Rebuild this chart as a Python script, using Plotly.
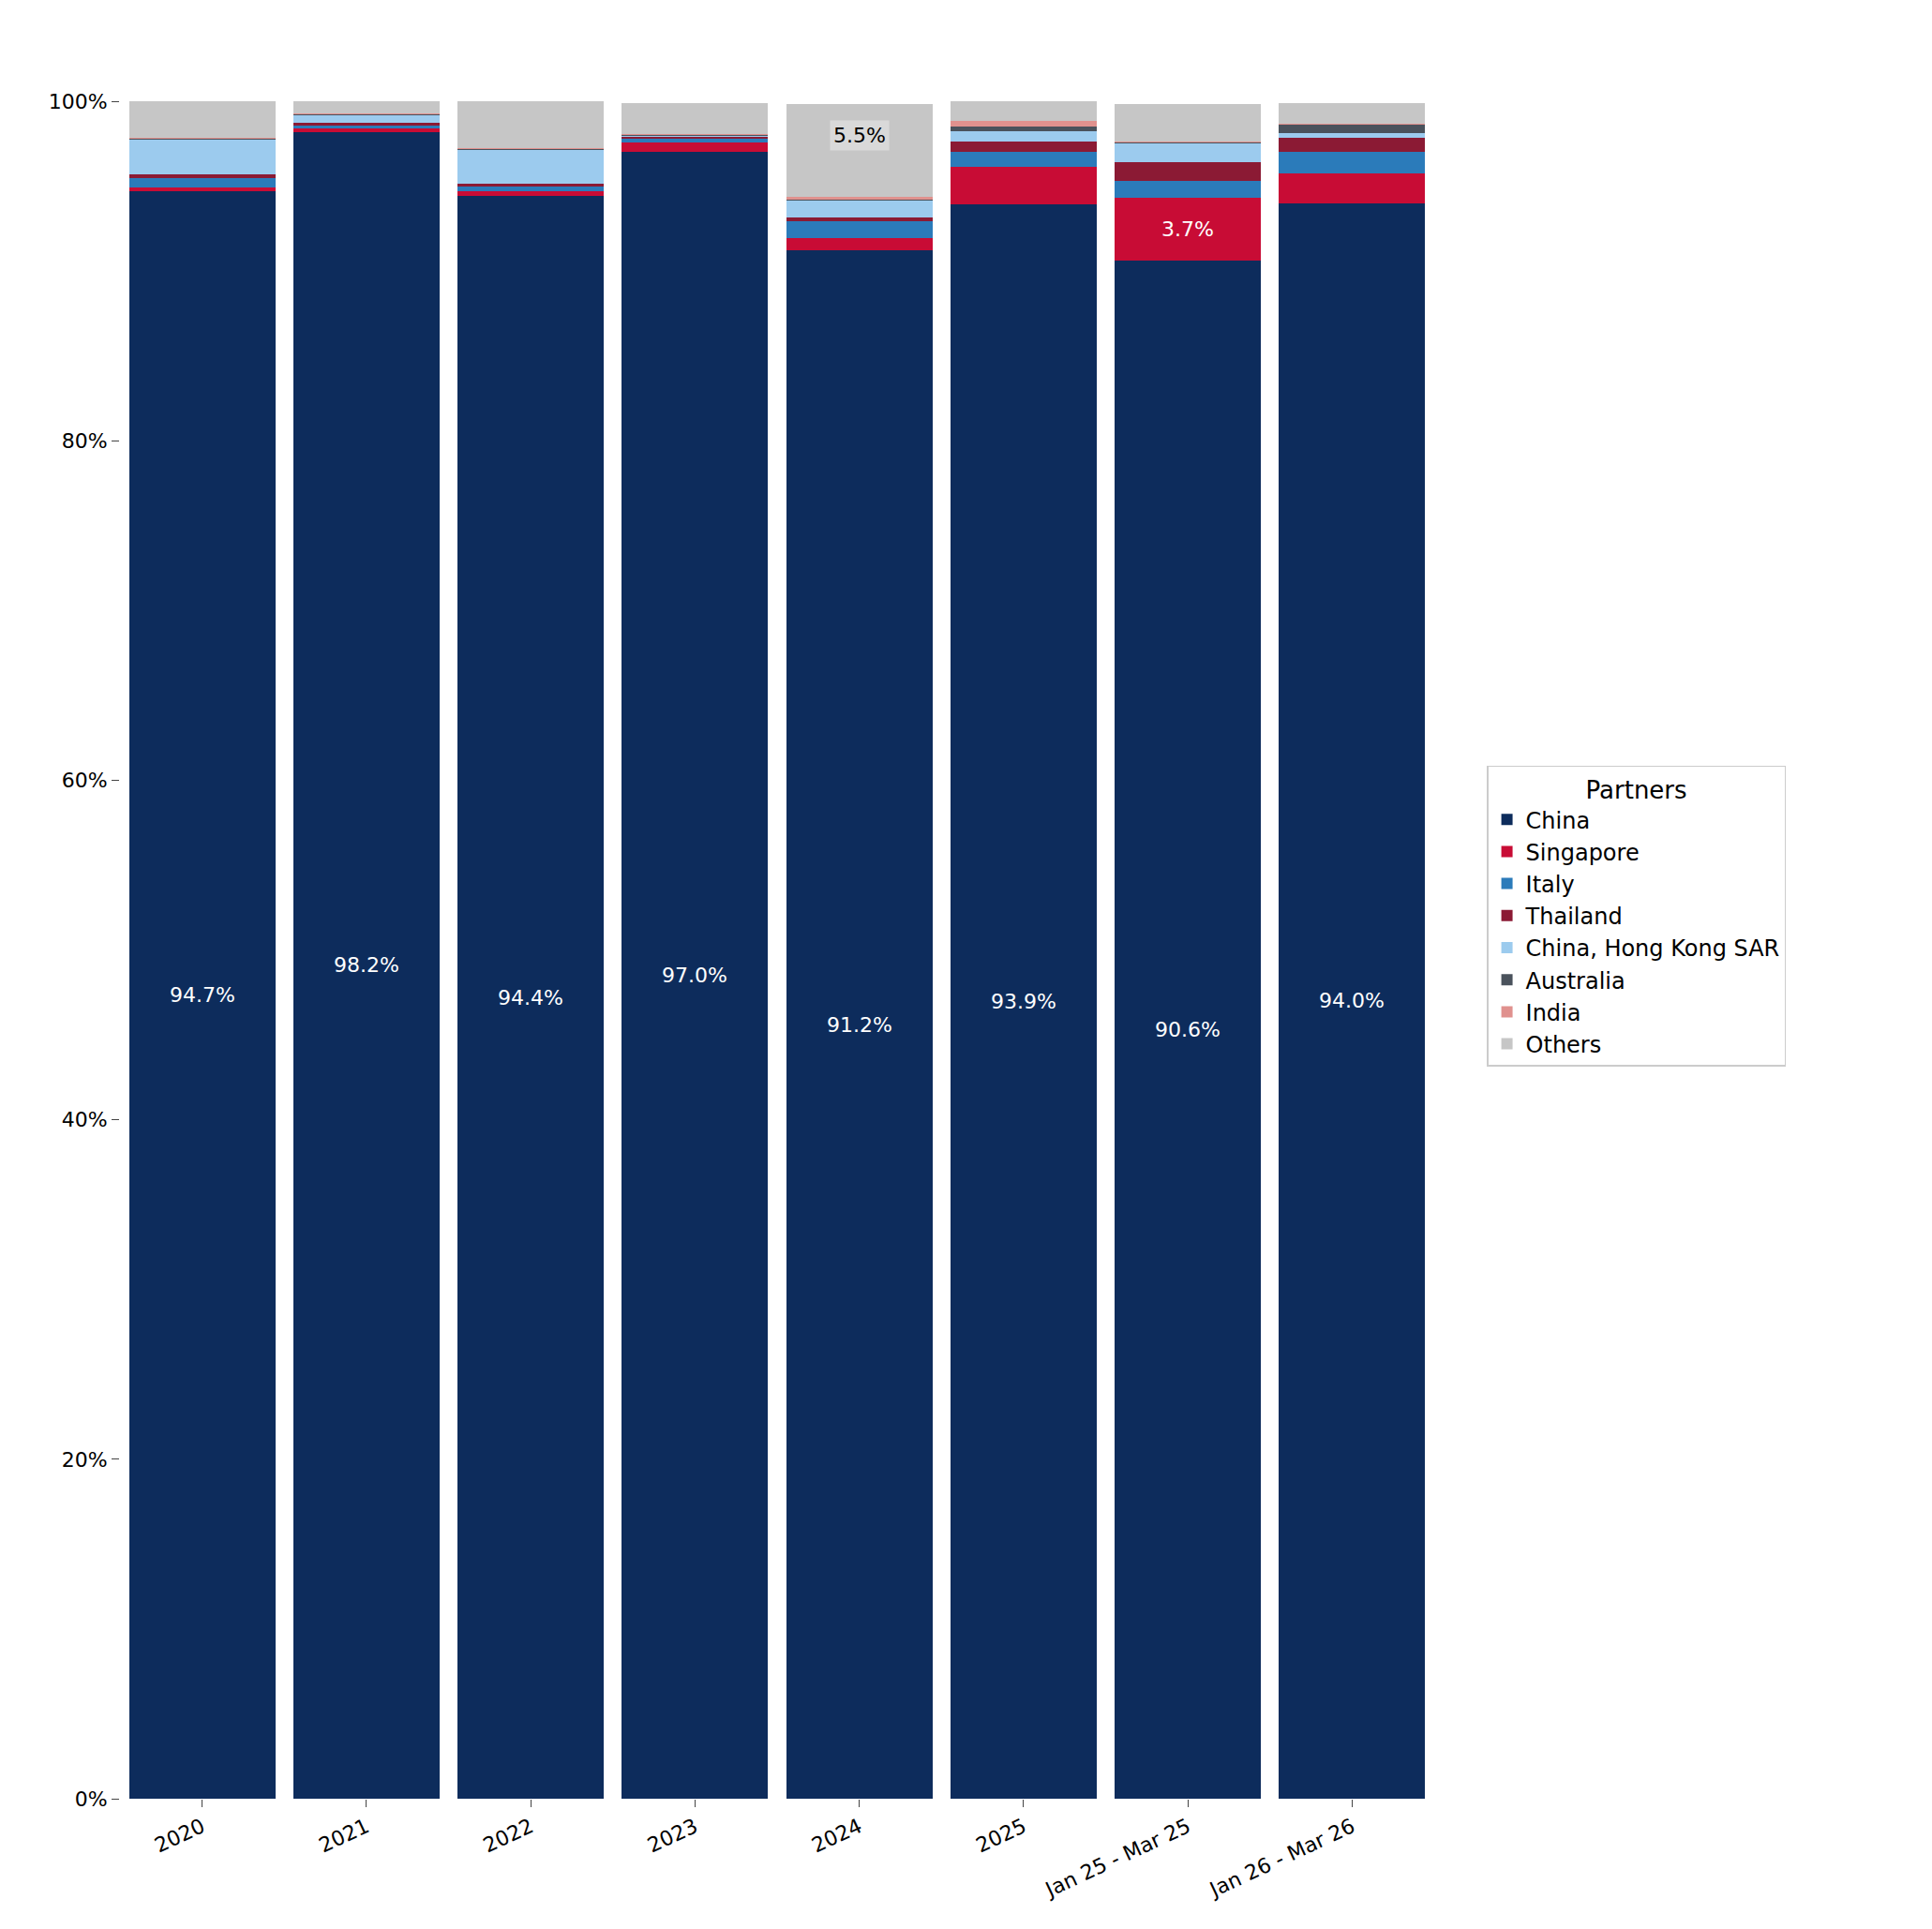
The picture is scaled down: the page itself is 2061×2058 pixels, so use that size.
import plotly.graph_objects as go

periods = ["2020", "2021", "2022", "2023", "2024", "2025", "Jan 25 - Mar 25", "Jan 26 - Mar 26"]
china = [94.7, 98.2, 94.4, 97.0, 91.2, 93.9, 90.6, 94.0]
singapore = [0.22, 0.22, 0.29, 0.55, 0.73, 2.24, 3.7, 1.76]
italy = [0.55, 0.13, 0.33, 0.22, 0.99, 0.88, 0.99, 1.27]
thailand = [0.2, 0.16, 0.11, 0.11, 0.22, 0.62, 1.12, 0.83]
hongkong = [2.1, 0.5, 2.04, 0.13, 1.03, 0.6, 1.16, 0.28]
australia = [0.03, 0.03, 0.03, 0.03, 0.03, 0.28, 0.02, 0.5]
india = [0.02, 0.02, 0.02, 0.02, 0.15, 0.33, 0.02, 0.02]
others = [2.2, 0.86, 2.8, 1.85, 5.5, 1.16, 2.2, 1.21]

series = [
    ("China", china, "#0d2c5c"),
    ("Singapore", singapore, "#c80c35"),
    ("Italy", italy, "#2b7bba"),
    ("Thailand", thailand, "#8b1a34"),
    ("China, Hong Kong SAR", hongkong, "#9ccbee"),
    ("Australia", australia, "#4a525c"),
    ("India", india, "#e0918e"),
    ("Others", others, "#c6c6c6"),
]

fig = go.Figure()
base = [0.0] * len(periods)
annotations = []
for name, vals, col in series:
    fig.add_trace(go.Bar(x=list(range(len(periods))), y=vals, name=name, marker_color=col,
                         marker_line_width=0, width=0.89, base=base[:]))
    for i, v in enumerate(vals):
        mid = base[i] + v / 2
        if name == "China" or (name == "Singapore" and i == 6):
            annotations.append(dict(x=i, y=mid, xref="x", yref="y", text=f"{v:.1f}%", showarrow=False,
                                    font=dict(color="white", size=22)))
        elif name == "Others" and i == 4:
            annotations.append(dict(x=i, y=base[i] + v * 0.66, xref="x", yref="y", text=f"{v:.1f}%",
                                    showarrow=False, font=dict(color="black", size=22),
                                    bgcolor="#d9d9d9", borderpad=3))
    base = [b + v for b, v in zip(base, vals)]

fig.update_layout(
    barmode="overlay",
    width=2061, height=2058,
    paper_bgcolor="white", plot_bgcolor="white",
    font=dict(family="DejaVu Sans", size=22, color="black"),
    margin=dict(l=120, r=539, t=100, b=147),
    annotations=annotations,
    legend=dict(title=dict(text="Partners", font=dict(size=26), side="top center"),
                x=1.04, xanchor="left", y=0.52, yanchor="middle",
                bordercolor="#cccccc", borderwidth=1.5, font=dict(size=24),
                tracegroupgap=0),
    xaxis=dict(tickangle=-25, ticks="outside", ticklen=8, showline=False,
               range=[-0.5, 7.5], tickvals=list(range(len(periods))), ticktext=periods),
    yaxis=dict(range=[0, 100], tickvals=[0, 20, 40, 60, 80, 100],
               ticktext=["0%", "20%", "40%", "60%", "80%", "100%"],
               ticks="outside", ticklen=8, showgrid=False, zeroline=False, showline=False),
    bargap=0,
)
fig.write_html("out.html")
